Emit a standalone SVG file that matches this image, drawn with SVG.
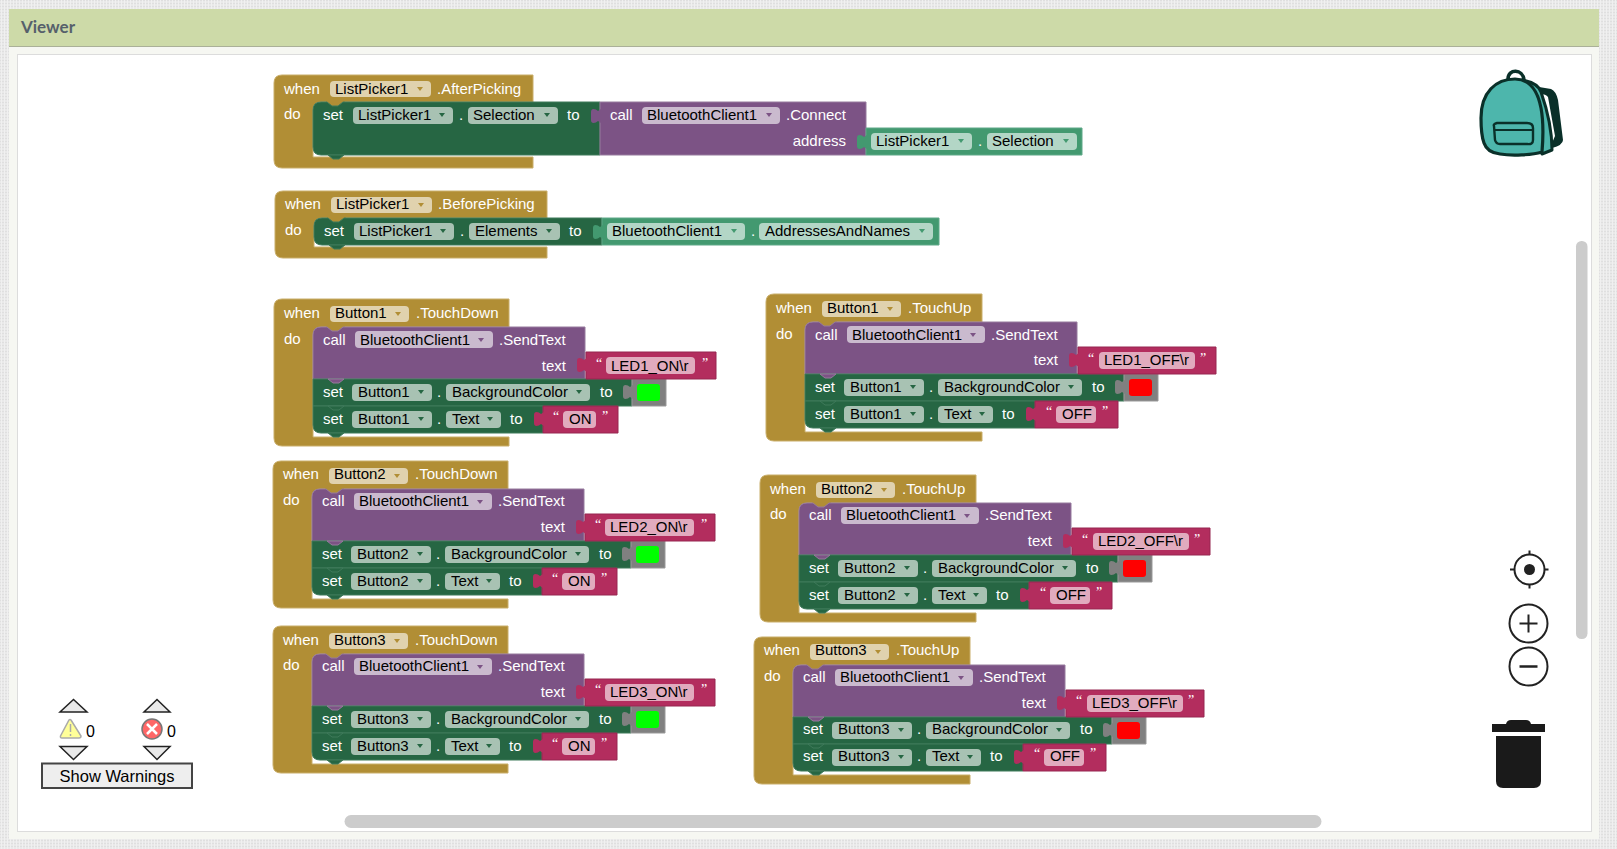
<svg xmlns="http://www.w3.org/2000/svg" width="1617" height="849" viewBox="0 0 1617 849">
<style>
text{font-family:"Liberation Sans",Arial,sans-serif;font-size:15px}
.t{fill:#fff}
.d{fill:#000}
.e{text-anchor:end}
.q{font-family:"Liberation Serif",serif;font-size:14px;fill:#fff}
.ctl{fill:#b18e35;stroke:#c9ae6b;stroke-width:1}
.cf{fill:#b18e35}
.pur{fill:#7c5385;stroke:#967a9d;stroke-width:1}
.grn{fill:#266643;stroke:#3f7a5b;stroke-width:1}
.str{fill:#b32d5e;stroke:#962650;stroke-width:1}
.tea{fill:#439970;stroke:#5fa888;stroke-width:1}
.gry{fill:#808080;stroke:#999;stroke-width:1}
.p{fill:#fff;fill-opacity:.6}
.ac{fill:#b18e35}.ap{fill:#7c5385}.ag{fill:#266643}.at{fill:#439970}
.dk{fill:none;stroke:#222;stroke-width:2}
.tri{fill:#e9e9e9;stroke:#222;stroke-width:1.5}
</style>
<defs>
<pattern id="tex" width="6" height="6" patternUnits="userSpaceOnUse">
<rect width="6" height="6" fill="#e9e9e9"/>
<path d="M0 0.5H6M0 3.5H6" stroke="#dfdfdf" stroke-width="1"/>
<path d="M1.5 0V6M4.5 0V6" stroke="#f0f0f0" stroke-width="1"/>
</pattern>
<path id="tab" d="M1 0L-2 2Q-4 0-6.500 0Q-9 0-9 3V11Q-9 14-6.500 14Q-4 14-2 12L1 14Z" stroke="none"/>
<path id="arr" d="M-3-2H3L0 2Z"/>
<g id="common">
<path class="cf" d="M52 27H71L69 33H54Z"/>
<path class="pur" d="M47 28H53l5 4h6l5-4H311V80H39V36Q39 28 47 28Z"/>
<rect class="p" x="81" y="32" width="138" height="17" rx="4"/>
<use href="#arr" class="ap" x="207" y="41"/>
<path class="grn" d="M39 80H358V107H39Z"/>
<rect class="p" x="78" y="85" width="80" height="17" rx="4"/>
<use href="#arr" class="ag" x="147" y="93"/>
<rect class="p" x="172" y="85" width="144" height="17" rx="4"/>
<use href="#arr" class="ag" x="305" y="93"/>
<path class="pur" d="M54 80l5 4h6l5-4z"/>
<path class="gry" d="M358 80H392V107H358Z"/>
<use href="#tab" fill="#808080" x="358" y="86"/>
<path class="grn" d="M39 107H269V134H47Q39 134 39 126Z"/>
<path class="grn" d="M54 107l5 4h6l5-4z"/>
<path fill="#266643" stroke="#3f7a5b" d="M54 134l5 4h6l5-4z"/>
<rect class="p" x="78" y="112" width="80" height="17" rx="4"/>
<use href="#arr" class="ag" x="147" y="120"/>
<rect class="p" x="172" y="112" width="55" height="17" rx="4"/>
<use href="#arr" class="ag" x="216" y="120"/>
</g>
<g id="downs">
<path class="ctl" d="M8 0H235V28H47Q39 28 39 36V138H235V147H8Q0 147 0 139V8Q0 0 8 0Z"/>
<rect class="p" x="56" y="7" width="79" height="16" rx="4"/>
<use href="#arr" class="ac" x="124" y="15"/>
<use href="#common"/>
<path class="str" d="M312 53H442V80H312Z"/>
<use href="#tab" fill="#b32d5e" x="312" y="59"/>
<rect class="p" x="332" y="58" width="89" height="17" rx="4"/>
<rect x="363" y="85" width="23" height="17" rx="3" fill="#0f0"/>
<path class="str" d="M269 107H344V134H269Z"/>
<use href="#tab" fill="#b32d5e" x="269" y="113"/>
<rect class="p" x="289" y="112" width="33" height="17" rx="4"/>
</g>
<g id="ups">
<path class="ctl" d="M8 0H216V28H47Q39 28 39 36V138H216V147H8Q0 147 0 139V8Q0 0 8 0Z"/>
<rect class="p" x="56" y="7" width="79" height="16" rx="4"/>
<use href="#arr" class="ac" x="124" y="15"/>
<use href="#common"/>
<path class="str" d="M312 53H450V80H312Z"/>
<use href="#tab" fill="#b32d5e" x="312" y="59"/>
<rect class="p" x="333" y="58" width="96" height="17" rx="4"/>
<rect x="363" y="85" width="23" height="17" rx="3" fill="#f00"/>
<path class="str" d="M269 107H352V134H269Z"/>
<use href="#tab" fill="#b32d5e" x="269" y="113"/>
<rect class="p" x="290" y="112" width="40" height="17" rx="4"/>
</g>
</defs>

<g id="frame">
<rect width="1617" height="849" fill="url(#tex)"/>
<rect x="9" y="9" width="1590" height="830" fill="#f6f7f2"/>
<rect x="9" y="9" width="1590" height="37" fill="#cddaa8"/>
<rect x="9" y="46" width="1590" height="1" fill="#aab098"/>
<rect x="17.500" y="54.500" width="1574" height="777" fill="#fff" stroke="#dcdcdc"/>
<text x="21" y="33" style="font-family:'Lato',sans-serif;font-weight:700;font-size:17px" fill="#56606b">Viewer</text>
<rect x="1576" y="241" width="11.500" height="398" rx="5.500" fill="#ccc"/>
<rect x="344.500" y="815" width="977" height="13" rx="6.500" fill="#ccc"/>
</g>

<g id="afterpicking" transform="translate(274 75)">
<path class="ctl" d="M8 0H259V27H47Q39 27 39 35V82H259V93H8Q0 93 0 85V8Q0 0 8 0Z"/>
<rect class="p" x="56" y="6" width="101" height="16" rx="4"/>
<use href="#arr" class="ac" x="146" y="14"/>
<path class="cf" d="M52 26H71L69 32H54Z"/>
<path class="grn" d="M47 27H53l5 4h6l5-4H326V80H47Q39 80 39 72V35Q39 27 47 27Z"/>
<path fill="#266643" stroke="#3f7a5b" d="M54 80l5 4h6l5-4z"/>
<rect class="p" x="79" y="32" width="100" height="17" rx="4"/>
<use href="#arr" class="ag" x="168" y="40"/>
<rect class="p" x="194" y="32" width="90" height="17" rx="4"/>
<use href="#arr" class="ag" x="273" y="40"/>
<path class="pur" d="M326 27H592V80H326Z"/>
<use href="#tab" fill="#7c5385" x="326" y="34"/>
<rect class="p" x="368" y="32" width="138" height="17" rx="4"/>
<use href="#arr" class="ap" x="495" y="40"/>
<path class="tea" d="M592 53H808V80H592Z"/>
<use href="#tab" fill="#439970" x="592" y="60"/>
<rect class="p" x="597" y="58" width="101" height="17" rx="4"/>
<use href="#arr" class="at" x="687" y="66"/>
<rect class="p" x="713" y="58" width="90" height="17" rx="4"/>
<use href="#arr" class="at" x="792" y="66"/>
<text class="t" x="10" y="19">when</text><text class="d" x="61" y="19">ListPicker1</text><text class="t" x="163" y="19">.AfterPicking</text>
<text class="t" x="10" y="44">do</text>
<text class="t" x="49" y="45">set</text><text class="d" x="84" y="45">ListPicker1</text><text class="t" x="185" y="45">.</text><text class="d" x="199" y="45">Selection</text><text class="t" x="293" y="45">to</text>
<text class="t" x="336" y="45">call</text><text class="d" x="373" y="45">BluetoothClient1</text><text class="t" x="512" y="45">.Connect</text>
<text class="t e" x="572" y="71">address</text>
<text class="d" x="602" y="71">ListPicker1</text><text class="t" x="704" y="71">.</text><text class="d" x="718" y="71">Selection</text>
</g>

<g id="beforepicking" transform="translate(275 191)">
<path class="ctl" d="M8 0H272V27H47Q39 27 39 35V56H272V67H8Q0 67 0 59V8Q0 0 8 0Z"/>
<rect class="p" x="56" y="6" width="101" height="16" rx="4"/>
<use href="#arr" class="ac" x="146" y="14"/>
<path class="cf" d="M52 26H71L69 32H54Z"/>
<path class="grn" d="M47 27H53l5 4h6l5-4H327V54H47Q39 54 39 46V35Q39 27 47 27Z"/>
<path fill="#266643" stroke="#3f7a5b" d="M54 54l5 4h6l5-4z"/>
<rect class="p" x="79" y="32" width="100" height="17" rx="4"/>
<use href="#arr" class="ag" x="168" y="40"/>
<rect class="p" x="194" y="32" width="91" height="17" rx="4"/>
<use href="#arr" class="ag" x="274" y="40"/>
<path class="tea" d="M327 27H664V54H327Z"/>
<use href="#tab" fill="#439970" x="327" y="34"/>
<rect class="p" x="332" y="32" width="138" height="17" rx="4"/>
<use href="#arr" class="at" x="459" y="40"/>
<rect class="p" x="484" y="32" width="174" height="17" rx="4"/>
<use href="#arr" class="at" x="647" y="40"/>
<text class="t" x="10" y="18">when</text><text class="d" x="61" y="18">ListPicker1</text><text class="t" x="163" y="18">.BeforePicking</text>
<text class="t" x="10" y="44">do</text>
<text class="t" x="49" y="45">set</text><text class="d" x="84" y="45">ListPicker1</text><text class="t" x="185" y="45">.</text><text class="d" x="200" y="45">Elements</text><text class="t" x="294" y="45">to</text>
<text class="d" x="337" y="45">BluetoothClient1</text><text class="t" x="476" y="45">.</text><text class="d" x="490" y="45">AddressesAndNames</text>
</g>

<g id="button1-down" transform="translate(274 299)">
<use href="#downs"/>
<text class="t" x="10" y="19">when</text><text class="d" x="61" y="19">Button1</text><text class="t" x="142" y="19">.TouchDown</text>
<text class="t" x="10" y="45">do</text>
<text class="t" x="49" y="46">call</text><text class="d" x="86" y="46">BluetoothClient1</text><text class="t" x="225" y="46">.SendText</text>
<text class="t e" x="292" y="72">text</text>
<text class="q" x="322" y="69">“</text><text class="d" x="337" y="72">LED1_ON\r</text><text class="q" x="428" y="69">”</text>
<text class="t" x="49" y="98">set</text><text class="d" x="84" y="98">Button1</text><text class="t" x="163" y="98">.</text><text class="d" x="178" y="98">BackgroundColor</text><text class="t" x="326" y="98">to</text>
<text class="t" x="49" y="125">set</text><text class="d" x="84" y="125">Button1</text><text class="t" x="163" y="125">.</text><text class="d" x="178" y="125">Text</text><text class="t" x="236" y="125">to</text>
<text class="q" x="279" y="122">“</text><text class="d" x="295" y="125">ON</text><text class="q" x="328" y="122">”</text>
</g>

<g id="button2-down" transform="translate(273 461)">
<use href="#downs"/>
<text class="t" x="10" y="18">when</text><text class="d" x="61" y="18">Button2</text><text class="t" x="142" y="18">.TouchDown</text>
<text class="t" x="10" y="44">do</text>
<text class="t" x="49" y="45">call</text><text class="d" x="86" y="45">BluetoothClient1</text><text class="t" x="225" y="45">.SendText</text>
<text class="t e" x="292" y="71">text</text>
<text class="q" x="322" y="68">“</text><text class="d" x="337" y="71">LED2_ON\r</text><text class="q" x="428" y="68">”</text>
<text class="t" x="49" y="98">set</text><text class="d" x="84" y="98">Button2</text><text class="t" x="163" y="98">.</text><text class="d" x="178" y="98">BackgroundColor</text><text class="t" x="326" y="98">to</text>
<text class="t" x="49" y="125">set</text><text class="d" x="84" y="125">Button2</text><text class="t" x="163" y="125">.</text><text class="d" x="178" y="125">Text</text><text class="t" x="236" y="125">to</text>
<text class="q" x="279" y="122">“</text><text class="d" x="295" y="125">ON</text><text class="q" x="328" y="122">”</text>
</g>

<g id="button3-down" transform="translate(273 626)">
<use href="#downs"/>
<text class="t" x="10" y="19">when</text><text class="d" x="61" y="19">Button3</text><text class="t" x="142" y="19">.TouchDown</text>
<text class="t" x="10" y="44">do</text>
<text class="t" x="49" y="45">call</text><text class="d" x="86" y="45">BluetoothClient1</text><text class="t" x="225" y="45">.SendText</text>
<text class="t e" x="292" y="71">text</text>
<text class="q" x="322" y="68">“</text><text class="d" x="337" y="71">LED3_ON\r</text><text class="q" x="428" y="68">”</text>
<text class="t" x="49" y="98">set</text><text class="d" x="84" y="98">Button3</text><text class="t" x="163" y="98">.</text><text class="d" x="178" y="98">BackgroundColor</text><text class="t" x="326" y="98">to</text>
<text class="t" x="49" y="125">set</text><text class="d" x="84" y="125">Button3</text><text class="t" x="163" y="125">.</text><text class="d" x="178" y="125">Text</text><text class="t" x="236" y="125">to</text>
<text class="q" x="279" y="122">“</text><text class="d" x="295" y="125">ON</text><text class="q" x="328" y="122">”</text>
</g>

<g id="button1-up" transform="translate(766 294)">
<use href="#ups"/>
<text class="t" x="10" y="19">when</text><text class="d" x="61" y="19">Button1</text><text class="t" x="142" y="19">.TouchUp</text>
<text class="t" x="10" y="45">do</text>
<text class="t" x="49" y="46">call</text><text class="d" x="86" y="46">BluetoothClient1</text><text class="t" x="225" y="46">.SendText</text>
<text class="t e" x="292" y="71">text</text>
<text class="q" x="322" y="69">“</text><text class="d" x="338" y="71">LED1_OFF\r</text><text class="q" x="434" y="69">”</text>
<text class="t" x="49" y="98">set</text><text class="d" x="84" y="98">Button1</text><text class="t" x="163" y="98">.</text><text class="d" x="178" y="98">BackgroundColor</text><text class="t" x="326" y="98">to</text>
<text class="t" x="49" y="125">set</text><text class="d" x="84" y="125">Button1</text><text class="t" x="163" y="125">.</text><text class="d" x="178" y="125">Text</text><text class="t" x="236" y="125">to</text>
<text class="q" x="280" y="122">“</text><text class="d" x="296" y="125">OFF</text><text class="q" x="336" y="122">”</text>
</g>

<g id="button2-up" transform="translate(760 475)">
<use href="#ups"/>
<text class="t" x="10" y="19">when</text><text class="d" x="61" y="19">Button2</text><text class="t" x="142" y="19">.TouchUp</text>
<text class="t" x="10" y="44">do</text>
<text class="t" x="49" y="45">call</text><text class="d" x="86" y="45">BluetoothClient1</text><text class="t" x="225" y="45">.SendText</text>
<text class="t e" x="292" y="71">text</text>
<text class="q" x="322" y="69">“</text><text class="d" x="338" y="71">LED2_OFF\r</text><text class="q" x="434" y="69">”</text>
<text class="t" x="49" y="98">set</text><text class="d" x="84" y="98">Button2</text><text class="t" x="163" y="98">.</text><text class="d" x="178" y="98">BackgroundColor</text><text class="t" x="326" y="98">to</text>
<text class="t" x="49" y="125">set</text><text class="d" x="84" y="125">Button2</text><text class="t" x="163" y="125">.</text><text class="d" x="178" y="125">Text</text><text class="t" x="236" y="125">to</text>
<text class="q" x="280" y="122">“</text><text class="d" x="296" y="125">OFF</text><text class="q" x="336" y="122">”</text>
</g>

<g id="button3-up" transform="translate(754 637)">
<use href="#ups"/>
<text class="t" x="10" y="18">when</text><text class="d" x="61" y="18">Button3</text><text class="t" x="142" y="18">.TouchUp</text>
<text class="t" x="10" y="44">do</text>
<text class="t" x="49" y="45">call</text><text class="d" x="86" y="45">BluetoothClient1</text><text class="t" x="225" y="45">.SendText</text>
<text class="t e" x="292" y="71">text</text>
<text class="q" x="322" y="68">“</text><text class="d" x="338" y="71">LED3_OFF\r</text><text class="q" x="434" y="68">”</text>
<text class="t" x="49" y="97">set</text><text class="d" x="84" y="97">Button3</text><text class="t" x="163" y="97">.</text><text class="d" x="178" y="97">BackgroundColor</text><text class="t" x="326" y="97">to</text>
<text class="t" x="49" y="124">set</text><text class="d" x="84" y="124">Button3</text><text class="t" x="163" y="124">.</text><text class="d" x="178" y="124">Text</text><text class="t" x="236" y="124">to</text>
<text class="q" x="280" y="121">“</text><text class="d" x="296" y="124">OFF</text><text class="q" x="336" y="121">”</text>
</g>

<g id="warnings">
<path class="tri" d="M60 712H87L73.500 699.500Z"/>
<path class="tri" d="M144 712H170L157 699.500Z"/>
<path d="M71 720L81 736Q81 738 79 738H62Q60 738 60.500 736L69 720Q70 719 71 720Z" fill="#ffff99" stroke="#aaa" stroke-width="1.500"/>
<path d="M70.500 724V732M70.500 734V736" stroke="#aaa" stroke-width="1.500"/>
<text x="86" y="737" style="font-size:16px" fill="#000">0</text>
<circle cx="152" cy="729" r="10" fill="#ff6666" stroke="#777" stroke-width="1.500"/>
<path d="M147 724L157 734M157 724L147 734" stroke="#fff" stroke-width="2.500"/>
<text x="167" y="737" style="font-size:16px" fill="#000">0</text>
<path class="tri" d="M60 746.500H87L73.500 759.500Z"/>
<path class="tri" d="M144 746.500H170L157 759.500Z"/>
<rect x="42" y="763.500" width="150" height="24.500" fill="#eee" stroke="#444" stroke-width="2"/>
<text x="117" y="782" text-anchor="middle" style="font-size:16.500px" fill="#000">Show Warnings</text>
</g>

<g id="backpack" stroke-linejoin="round">
<path d="M1508 79C1508 68.500 1523 68.500 1524 80" fill="none" stroke="#0a3029" stroke-width="3.500"/>
<path d="M1539 87L1551 89Q1556 91 1558 100L1563 140Q1563 145 1552 148L1552 143L1555 136L1548 97Q1546 94 1540 94Z" fill="#0a3029"/>
<path d="M1522 80C1533 82 1539 86 1541 92C1548 112 1552 130 1552 150L1542 154Z" fill="#4db6ac" stroke="#0a3029" stroke-width="3"/>
<path d="M1481 118C1481 92 1496 79 1515 79C1530 79 1538 92 1541 108C1544 124 1543 140 1542 152C1532 155 1512 156 1500 154C1490 153 1486 149 1484 143C1481 135 1481 126 1481 118Z" fill="#4db6ac" stroke="#0a3029" stroke-width="3.200"/>
<path d="M1494 126Q1493 124 1497 123H1527Q1533 123 1533 128L1533 140Q1533 145 1527 144L1500 144Q1496 144 1495 140Z" fill="#4db6ac" stroke="#0a3029" stroke-width="2.400"/>
<path d="M1494 130H1533" stroke="#0a3029" stroke-width="2"/>
</g>

<g id="target">
<circle cx="1529.500" cy="569.500" r="15" class="dk"/>
<circle cx="1529.500" cy="569.500" r="5.500" fill="#222"/>
<path d="M1529.500 550.500V555M1529.500 584V588.500M1510 569.500H1515M1544 569.500H1548.500" class="dk"/>
</g>
<g id="zoom-in">
<circle cx="1528.500" cy="623.500" r="19" class="dk"/>
<path d="M1519.500 623.500H1537.500M1528.500 614.500V632.500" class="dk"/>
</g>
<g id="zoom-out">
<circle cx="1528.500" cy="666.500" r="19" class="dk"/>
<path d="M1519.500 666.500H1537.500" stroke="#222" stroke-width="2.500"/>
</g>
<g id="trash" fill="#1a1a1a">
<path d="M1492 724H1506Q1507 720 1511 720H1526Q1530 720 1531 724H1545V732H1492Z"/>
<path d="M1496 736H1541V781Q1541 788 1534 788H1503Q1496 788 1496 781Z"/>
</g>
</svg>
